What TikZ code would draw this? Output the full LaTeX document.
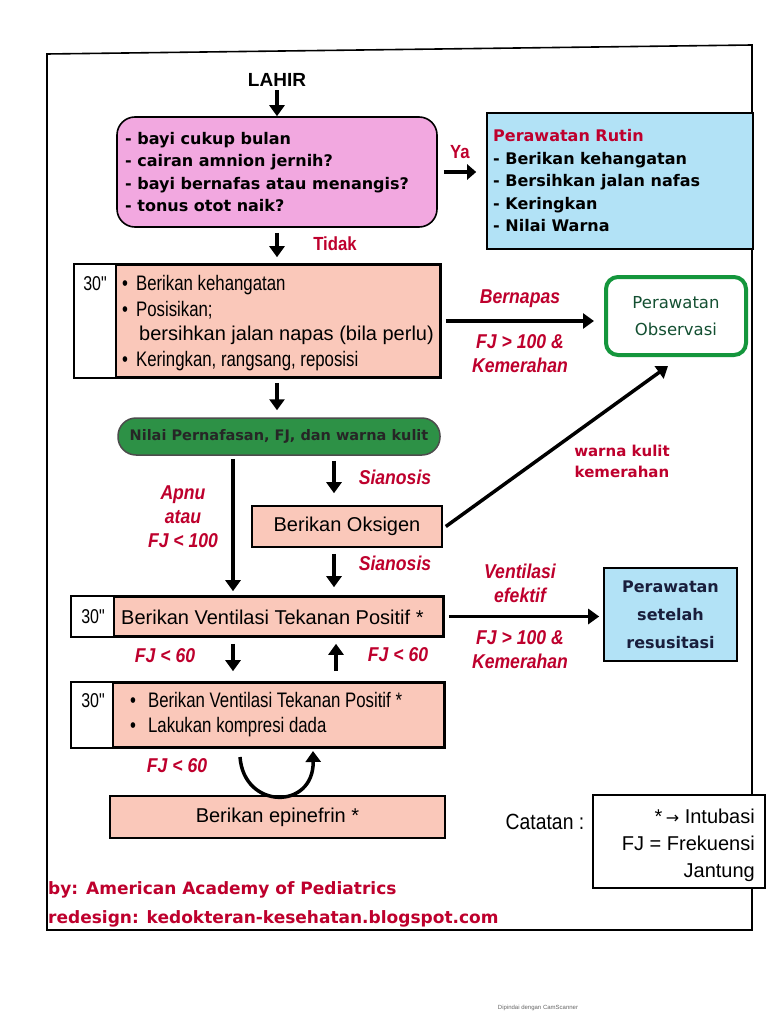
\documentclass[tikz,border=0pt]{standalone}
\usepackage{fontspec}
\setmainfont{Liberation Sans}
\newfontfamily\narrowf[FakeStretch=0.8]{Liberation Sans}
\newfontfamily\labf[FakeStretch=0.88]{Liberation Sans}
\newfontfamily\comicf{DejaVu Sans}
\newfontfamily\symf{DejaVu Sans}
\usetikzlibrary{arrows.meta}
\definecolor{pinkf}{RGB}{242,168,224}
\definecolor{bluef}{RGB}{178,226,246}
\definecolor{salmonf}{RGB}{250,200,186}
\definecolor{greenf}{RGB}{45,145,70}
\definecolor{greenb}{RGB}{20,150,60}
\definecolor{redc}{RGB}{190,0,45}
\definecolor{darkg}{RGB}{20,80,50}
\definecolor{navy}{RGB}{25,30,60}
\tikzset{
  arr/.style={line width=3.5pt,-{Triangle[length=11pt,width=15pt]}},
  box/.style={draw,line width=1.6pt,inner sep=0pt},
  redlab/.style={text=redc,font=\labf\bfseries\itshape\fontsize{20}{24}\selectfont,align=center},
  comic/.style={font=\comicf\bfseries\fontsize{16}{22.5}\selectfont},
  narrowtxt/.style={font=\narrowf\fontsize{21}{25}\selectfont,anchor=west,inner sep=0pt},
  normtxt/.style={font=\fontsize{20}{25}\selectfont,inner sep=0pt}
}
\begin{document}
\begin{tikzpicture}[x=1pt,y=-1pt]
\useasboundingbox (0,0) rectangle (768,1024);
\fill[white] (0,0) rectangle (768,1024);
% frame
\draw[line width=1.6pt] (47,54) -- (752,45) -- (752,930) -- (47,930) -- cycle;

\coordinate (x233) at (233,0);
\coordinate (x277) at (277,0);
\coordinate (x334) at (334,0);
\coordinate (x336) at (336,0);

% LAHIR
\node[font=\bfseries\fontsize{19}{22}\selectfont] (lahir) at (277,80) {LAHIR};

% pink question box
\node[box,rounded corners=18pt,fill=pinkf,minimum width=320pt,minimum height=110pt] (q) at (277,172) {};
\node[comic,align=left,anchor=west,inner sep=0pt] (qtxt) at (125,172) {- bayi cukup bulan\\- cairan amnion jernih?\\- bayi bernafas atau menangis?\\- tonus otot naik?};
\draw[arr] (lahir.south) -- (q.north);

% Routine care
\node[box,fill=bluef,minimum width=266pt,minimum height=136pt] (rutin) at (620,181) {};
\node[comic,align=left,anchor=west,inner sep=0pt] (rtxt) at (493,181) {\textcolor{redc}{Perawatan Rutin}\\- Berikan kehangatan\\- Bersihkan jalan nafas\\- Keringkan\\- Nilai Warna};
\draw[line width=4.5pt,-{Triangle[length=9pt,width=15pt]}] ([xshift=6pt]q.east) -- ([xshift=-10pt]rutin.west |- q.east);
\node[text=redc,font=\labf\bfseries\fontsize{19}{20}\selectfont] (ya) at (460,152) {Ya};

% Box 2
\node[box,fill=salmonf,minimum width=365pt,minimum height=112pt] (b2) at (257.5,321) {};
\fill[white] (b2.north west) rectangle (116,377);
\draw[line width=1.6pt] (b2.north west) rectangle (b2.south east);
\draw[line width=1.6pt] (116,265) -- (116,377);
\node[font=\narrowf\fontsize{20}{22}\selectfont] (t2) at (95,284) {30"};
\node[narrowtxt] (b2l1) at (122,285) {•\hspace{8pt}Berikan kehangatan};
\node[narrowtxt] (b2l2) at (122,310) {•\hspace{8pt}Posisikan;};
\node[normtxt,anchor=west] (b2l3) at (139,335) {bersihkan jalan napas (bila perlu)};
\node[narrowtxt] (b2l4) at (122,361) {•\hspace{8pt}Keringkan, rangsang, reposisi};
\draw[arr] ([yshift=-5pt]q.south) -- ([yshift=7pt]b2.north -| x277);
\node[text=redc,font=\labf\bfseries\fontsize{19}{20}\selectfont] (tidak) at (335,244) {Tidak};

% Observation box
\node[draw=greenb,line width=4pt,rounded corners=12pt,fill=white,minimum width=140pt,minimum height=78pt,
      align=center,text=darkg,font=\comicf\fontsize{16.5}{27}\selectfont] (obs) at (676,316) {Perawatan\\Observasi};
\draw[arr] ([xshift=5pt]b2.east) -- ([xshift=-10pt]obs.west |- b2.east);
\node[redlab] (bern) at (520,299) {Bernapas};
\node[redlab] (fj1) at (520,354) {FJ > 100 \&\\Kemerahan};

% Pill
\node[draw=black!70,line width=1.5pt,rounded corners=18pt,fill=greenf,minimum width=322pt,minimum height=37pt,
      font=\comicf\bfseries\fontsize{14.5}{16}\selectfont,text=black!85] (pill) at (279,436.5) {Nilai Pernafasan, FJ, dan warna kulit};
\draw[arr] ([yshift=-5pt]b2.south -| x277) -- ([yshift=7pt]pill.north -| x277);

% Oksigen
\node[box,fill=salmonf,minimum width=190pt,minimum height=41pt,font=\fontsize{20}{24}\selectfont] (oks) at (347,526.5) {Berikan Oksigen};
\draw[arr] ([yshift=-5pt]pill.south -| x334) -- ([yshift=12pt]oks.north -| x334);
\node[redlab] (sian1) at (395,477) {Sianosis};
\node[redlab] (apnu) at (183,517) {Apnu\\atau\\FJ < 100};
\coordinate (obsin) at (668,366);
\draw[arr] ([xshift=3pt]oks.east) -- (obsin);
\node[text=redc,font=\comicf\bfseries\fontsize{15}{21}\selectfont,align=center] (wk) at (622,461) {warna kulit\\kemerahan};

% VTP box
\node[box,fill=salmonf,minimum width=371pt,minimum height=39pt] (vtp) at (257.5,616.5) {};
\fill[white] (vtp.north west) rectangle (114,636);
\draw[line width=1.6pt] (vtp.north west) rectangle (vtp.south east);
\draw[line width=1.6pt] (114,597) -- (114,636);
\node[font=\narrowf\fontsize{20}{22}\selectfont] (t3) at (93,617) {30"};
\node[normtxt,anchor=west] (vtptxt) at (121,617) {Berikan Ventilasi Tekanan Positif *};
\draw[arr] ([yshift=-3pt]pill.south -| x233) -- ([yshift=5pt]vtp.north -| x233);
\draw[arr] ([yshift=-6pt]oks.south -| x334) -- ([yshift=9pt]vtp.north -| x334);
\node[redlab] (sian2) at (395,563) {Sianosis};

% After resuscitation box
\node[box,fill=bluef,minimum width=133pt,minimum height=93pt,align=center,text=navy,
      font=\comicf\bfseries\fontsize{16}{28}\selectfont] (post) at (670.5,614.5) {Perawatan\\setelah\\resusitasi};
\draw[arr] ([xshift=5pt]vtp.east) -- ([xshift=-4pt]post.west |- vtp.east);
\node[redlab] (vef) at (520,583) {Ventilasi\\efektif};
\node[redlab] (fj2) at (520,650) {FJ > 100 \&\\Kemerahan};

% Box 3
\node[box,fill=salmonf,minimum width=372pt,minimum height=64pt] (b3) at (258,715) {};
\fill[white] (b3.north west) rectangle (113,747);
\draw[line width=1.6pt] (b3.north west) rectangle (b3.south east);
\draw[line width=1.6pt] (113,683) -- (113,747);
\node[font=\narrowf\fontsize{20}{22}\selectfont] (t4) at (93,701) {30"};
\node[font=\narrowf\fontsize{21}{24}\selectfont,anchor=west,inner sep=0pt] (b3l1) at (130,700) {•\hspace{12pt}Berikan Ventilasi Tekanan Positif *};
\node[font=\narrowf\fontsize{21}{24}\selectfont,anchor=west,inner sep=0pt] (b3l2) at (130,727) {•\hspace{12pt}Lakukan kompresi dada};
\draw[arr] ([yshift=-7pt]vtp.south -| x233) -- ([yshift=11pt]b3.north -| x233);
\draw[arr] ([yshift=11pt]b3.north -| x336) -- ([yshift=-7pt]vtp.south -| x336);
\node[redlab] (fj60a) at (165,656) {FJ < 60};
\node[redlab] (fj60b) at (398,655) {FJ < 60};

% Epinefrin
\node[box,fill=salmonf,minimum width=335pt,minimum height=42pt,font=\fontsize{20}{24}\selectfont] (epi) at (277.5,817) {Berikan epinefrin *};
\coordinate (ca) at (240,757);
\coordinate (cb) at (313,751);
\draw[arr] (ca) .. controls (244,810) and (314,810) .. (cb);
\node[redlab] (fj60c) at (177,766) {FJ < 60};

% Notes
\node[font=\labf\fontsize{22}{24}\selectfont] (cat) at (545,822) {Catatan :};
\node[box,fill=white,minimum width=172pt,minimum height=93pt] (note) at (679,841.5) {};
\node[font=\fontsize{20}{27}\selectfont,align=right,anchor=east,inner sep=0pt] (notetxt) at (755,845) {*\,{\symf\fontsize{16}{20}\selectfont →} Intubasi\\FJ = Frekuensi\\Jantung};

% credits
\node[text=redc,font=\comicf\bfseries\fontsize{17}{29}\selectfont,align=left,anchor=west,inner sep=0pt] (cred) at (48,904) {by: American Academy of Pediatrics\\redesign: kedokteran-kesehatan.blogspot.com};

\node[text=black!60,font=\fontsize{6}{7}\selectfont] (cs) at (538,1008) {Dipindai dengan CamScanner};
\end{tikzpicture}
\end{document}
